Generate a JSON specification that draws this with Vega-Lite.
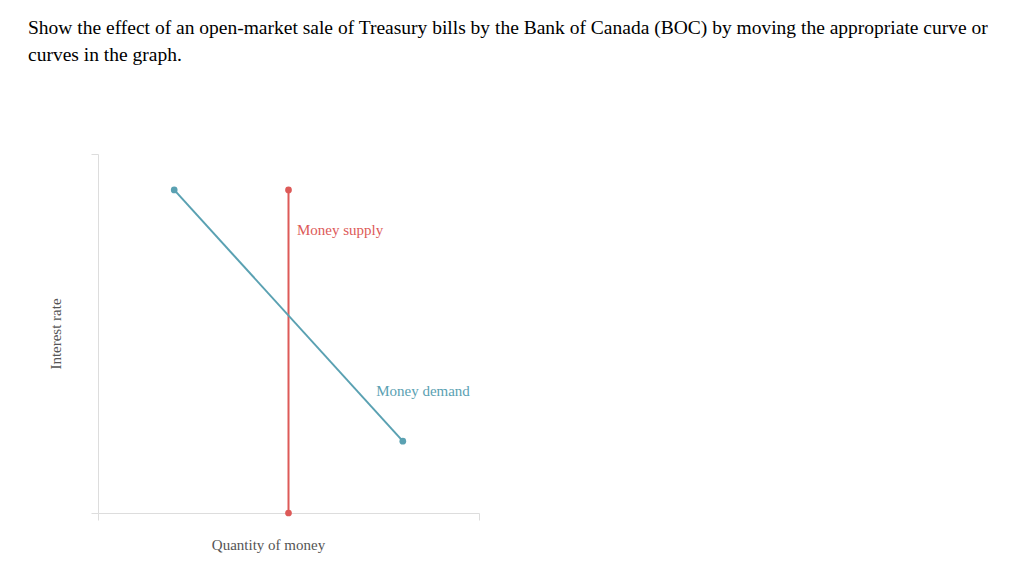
{
  "$schema": "https://vega.github.io/schema/vega-lite/v6.json",
  "width": 381,
  "height": 359,
  "autosize": {"type": "none"},
  "padding": {"left": 98, "top": 154, "right": 545, "bottom": 57},
  "background": "white",
  "title": {
    "text": ["Show the effect of an open-market sale of Treasury bills by the Bank of Canada (BOC) by moving the appropriate curve or", "curves in the graph."],
    "anchor": "start",
    "frame": "group",
    "font": "Liberation Serif",
    "fontSize": 19.5,
    "fontWeight": "normal",
    "color": "#000000",
    "lineHeight": 27,
    "dx": -70,
    "offset": 88
  },
  "config": {
    "view": {"stroke": null},
    "axis": {
      "domainColor": "#dddddd",
      "tickColor": "#dddddd",
      "tickSize": 7,
      "grid": false,
      "labels": false,
      "titleFont": "Liberation Serif",
      "titleFontSize": 15,
      "titleFontWeight": "normal",
      "titleColor": "#555555"
    }
  },
  "datasets": {
    "curves": [
      {"series": "Money supply", "q": 5, "r": 0},
      {"series": "Money supply", "q": 5, "r": 9},
      {"series": "Money demand", "q": 2, "r": 9},
      {"series": "Money demand", "q": 8, "r": 2}
    ],
    "labels": [
      {"series": "Money supply", "q": 5.22, "r": 7.87},
      {"series": "Money demand", "q": 7.3, "r": 3.41}
    ]
  },
  "layer": [
    {
      "data": {"name": "curves"},
      "mark": {"type": "line", "strokeWidth": 2},
      "encoding": {
        "x": {"field": "q", "type": "quantitative", "scale": {"domain": [0, 10], "nice": false}, "axis": {"values": [0, 10], "title": "Quantity of money", "titleX": 170, "titleY": 36, "titleAlign": "center", "titleBaseline": "alphabetic"}},
        "y": {"field": "r", "type": "quantitative", "scale": {"domain": [0, 10], "nice": false}, "axis": {"values": [0, 10], "title": "Interest rate", "titleX": -38, "titleY": 179.5, "titleAlign": "center", "titleBaseline": "alphabetic", "titleAngle": -90}},
        "color": {"field": "series", "type": "nominal", "scale": {"domain": ["Money supply", "Money demand"], "range": ["#dd5a58", "#5aa1b2"]}, "legend": null},
        "detail": {"field": "series"}
      }
    },
    {
      "data": {"name": "curves"},
      "mark": {"type": "point", "filled": true, "size": 45, "opacity": 1},
      "encoding": {
        "x": {"field": "q", "type": "quantitative"},
        "y": {"field": "r", "type": "quantitative"},
        "color": {"field": "series", "type": "nominal", "legend": null}
      }
    },
    {
      "data": {"name": "labels"},
      "mark": {"type": "text", "align": "left", "baseline": "middle", "font": "Liberation Serif", "fontSize": 15},
      "encoding": {
        "x": {"field": "q", "type": "quantitative"},
        "y": {"field": "r", "type": "quantitative"},
        "text": {"field": "series"},
        "color": {"field": "series", "type": "nominal", "legend": null}
      }
    }
  ]
}
